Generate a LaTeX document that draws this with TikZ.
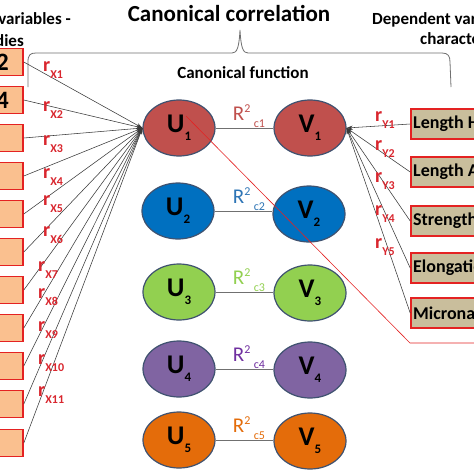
\documentclass[tikz,border=0pt]{standalone}
\usepackage{fontspec}
\setmainfont{Carlito}
\usetikzlibrary{shapes.geometric,arrows.meta}
\definecolor{boxred}{HTML}{E42222}
\definecolor{peach}{HTML}{FAC08F}
\definecolor{khaki}{HTML}{C9BE9C}
\definecolor{edgeblue}{HTML}{3F5270}
\definecolor{linkgray}{HTML}{3A3A3A}
\definecolor{midgray}{HTML}{707070}
\definecolor{lblred}{HTML}{D9262E}
\definecolor{cOne}{HTML}{C0504D}
\definecolor{cTwo}{HTML}{0070C0}
\definecolor{cThree}{HTML}{92D050}
\definecolor{cFour}{HTML}{8064A2}
\definecolor{cFive}{HTML}{E46C0A}
\definecolor{rTwo}{HTML}{2E75B6}
\definecolor{rFour}{HTML}{7030A0}
\newcommand\mysubs[1]{\raisebox{-0.3em}{\fontsize{13}{13}\selectfont #1}}
\newcommand\rlab[1]{\bfseries\fontsize{20}{20}\selectfont r\raisebox{-0.35em}{\fontsize{12}{12}\selectfont #1}}
\newcommand\Rlab[1]{\fontsize{21}{21}\selectfont R\raisebox{0.4em}{\fontsize{12}{12}\selectfont 2}\,\raisebox{-0.3em}{\fontsize{12}{12}\selectfont c#1}}
\tikzset{
  xbox/.style={draw=boxred, line width=1.6pt, fill=peach, minimum width=80pt, minimum height=27pt, inner sep=0pt},
  ybox/.style={draw=boxred, line width=1.6pt, fill=khaki, minimum width=100pt, minimum height=30pt, inner sep=0pt},
  canon/.style={ellipse, draw=edgeblue, line width=1.2pt, minimum width=72pt, minimum height=56pt, inner sep=0pt, font=\bfseries\fontsize{27}{27}\selectfont},
  link/.style={draw=linkgray, line width=0.55pt, -{Stealth[length=6pt,width=4pt]}},
  pair/.style={draw=midgray, line width=0.8pt},
  rx/.style={text=lblred, anchor=west, inner sep=0pt},
  hdr/.style={font=\bfseries\fontsize{17}{17}\selectfont, inner sep=0pt},
  boxtxt/.style={font=\bfseries\fontsize{18}{18}\selectfont, inner sep=0pt, anchor=west}
}
\begin{document}
\begin{tikzpicture}[x=1pt,y=-1pt]
\useasboundingbox (0,0) rectangle (474,474);
\fill[white] (0,0) rectangle (474,474);
\clip (0,0) rectangle (474,474);

% headings
\node[font=\bfseries\fontsize{23}{23}\selectfont, inner sep=0pt] (title) at (229,13) {Canonical correlation};
\node[font=\bfseries\fontsize{17}{17}\selectfont, inner sep=0pt] (cfun) at (243,73) {Canonical function};
\node[hdr, anchor=east] (lh1) at (71,20) {Independent variables -};
\node[hdr, anchor=east] (lh2) at (24,41) {studies};
\node[hdr, anchor=west] (rh1) at (372,20) {Dependent variables -};
\node[hdr, anchor=west] (rh2) at (420,39) {characteristics};

% brace
\draw[midgray, line width=0.8pt] (28,87) -- (28,62) .. controls (28,55) and (30,53) .. (36,53)
  -- (232,53) .. controls (237,53) and (239,48) .. (240,30)
  .. controls (241,48) and (243,53) .. (248,53) -- (442,53)
  .. controls (448,53) and (450,56) .. (450,62) -- (451,87);

% left boxes
\foreach \i/\y in {1/62,2/100,3/138,4/176,5/214,6/252,7/290,8/328,9/366,10/404,11/443}{
  \node[xbox] (b\i) at (-17,\y) {};
}
\node[font=\bfseries\fontsize{25}{25}\selectfont, anchor=east, inner sep=0pt] (b1t) at (9,62) {12};
\node[font=\bfseries\fontsize{25}{25}\selectfont, anchor=east, inner sep=0pt] (b2t) at (9,100) {14};

% right boxes
\foreach \i/\y in {1/124,2/172,3/221,4/268,5/313}{
  \node[ybox] (y\i) at (461,\y) {};
}
\node[boxtxt] (y1t) at (413,124) {Length HVI};
\node[boxtxt] (y2t) at (413,172) {Length AFIS};
\node[boxtxt] (y3t) at (413,221) {Strength};
\node[boxtxt] (y4t) at (413,268) {Elongation};
\node[boxtxt] (y5t) at (413,313) {Micronaire};

% canonical variates
\node[canon, fill=cOne] (U1) at (179,128) {U\mysubs{1}};
\node[canon, fill=cOne] (V1) at (310,128) {V\mysubs{1}};
\node[canon, fill=cTwo] (U2) at (178,211) {U\mysubs{2}};
\node[canon, fill=cTwo] (V2) at (309,214) {V\mysubs{2}};
\node[canon, fill=cThree] (U3) at (179,292) {U\mysubs{3}};
\node[canon, fill=cThree] (V3) at (310,293) {V\mysubs{3}};
\node[canon, fill=cFour] (U4) at (179,369) {U\mysubs{4}};
\node[canon, fill=cFour] (V4) at (310,370) {V\mysubs{4}};
\node[canon, fill=cFive] (U5) at (179,440) {U\mysubs{5}};
\node[canon, fill=cFive] (V5) at (310,441) {V\mysubs{5}};

\foreach \k in {1,...,5}{
  \draw[pair] (U\k.east) -- (U\k.east -| V\k.west);
}
\node[text=cOne, inner sep=0pt] (R1) at (249,116) {\Rlab{1}};
\node[text=rTwo, inner sep=0pt] (R2) at (249,199) {\Rlab{2}};
\node[text=cThree, inner sep=0pt] (R3) at (249,280) {\Rlab{3}};
\node[text=rFour, inner sep=0pt] (R4) at (249,357) {\Rlab{4}};
\node[text=cFive, inner sep=0pt] (R5) at (249,428) {\Rlab{5}};

% loadings
\foreach \i in {1,...,11}{
  \draw[link] (b\i.east) -- (U1.west);
}
\foreach \i in {1,...,5}{
  \draw[link] (y\i.west) -- (V1.east);
}
\foreach \i/\x/\y in {1/43/70,2/43/110,3/43/144,4/43/177,5/43/204,6/43/235,7/38/270,8/38/297,9/38/330,10/38/363,11/38/395}{
  \node[rx] (rx\i) at (\x,\y) {\rlab{X\i}};
}
\foreach \i/\y in {1/120,2/149,3/181,4/214,5/247}{
  \node[rx] (ry\i) at (375,\y) {\rlab{Y\i}};
}

% red pointer line
\coordinate (p0) at (186,116);
\coordinate (p1) at (410,343);
\coordinate (p2) at (474,343);
\draw[boxred, line width=0.6pt] (p0) -- (p1) -- (p2);
\end{tikzpicture}
\end{document}
